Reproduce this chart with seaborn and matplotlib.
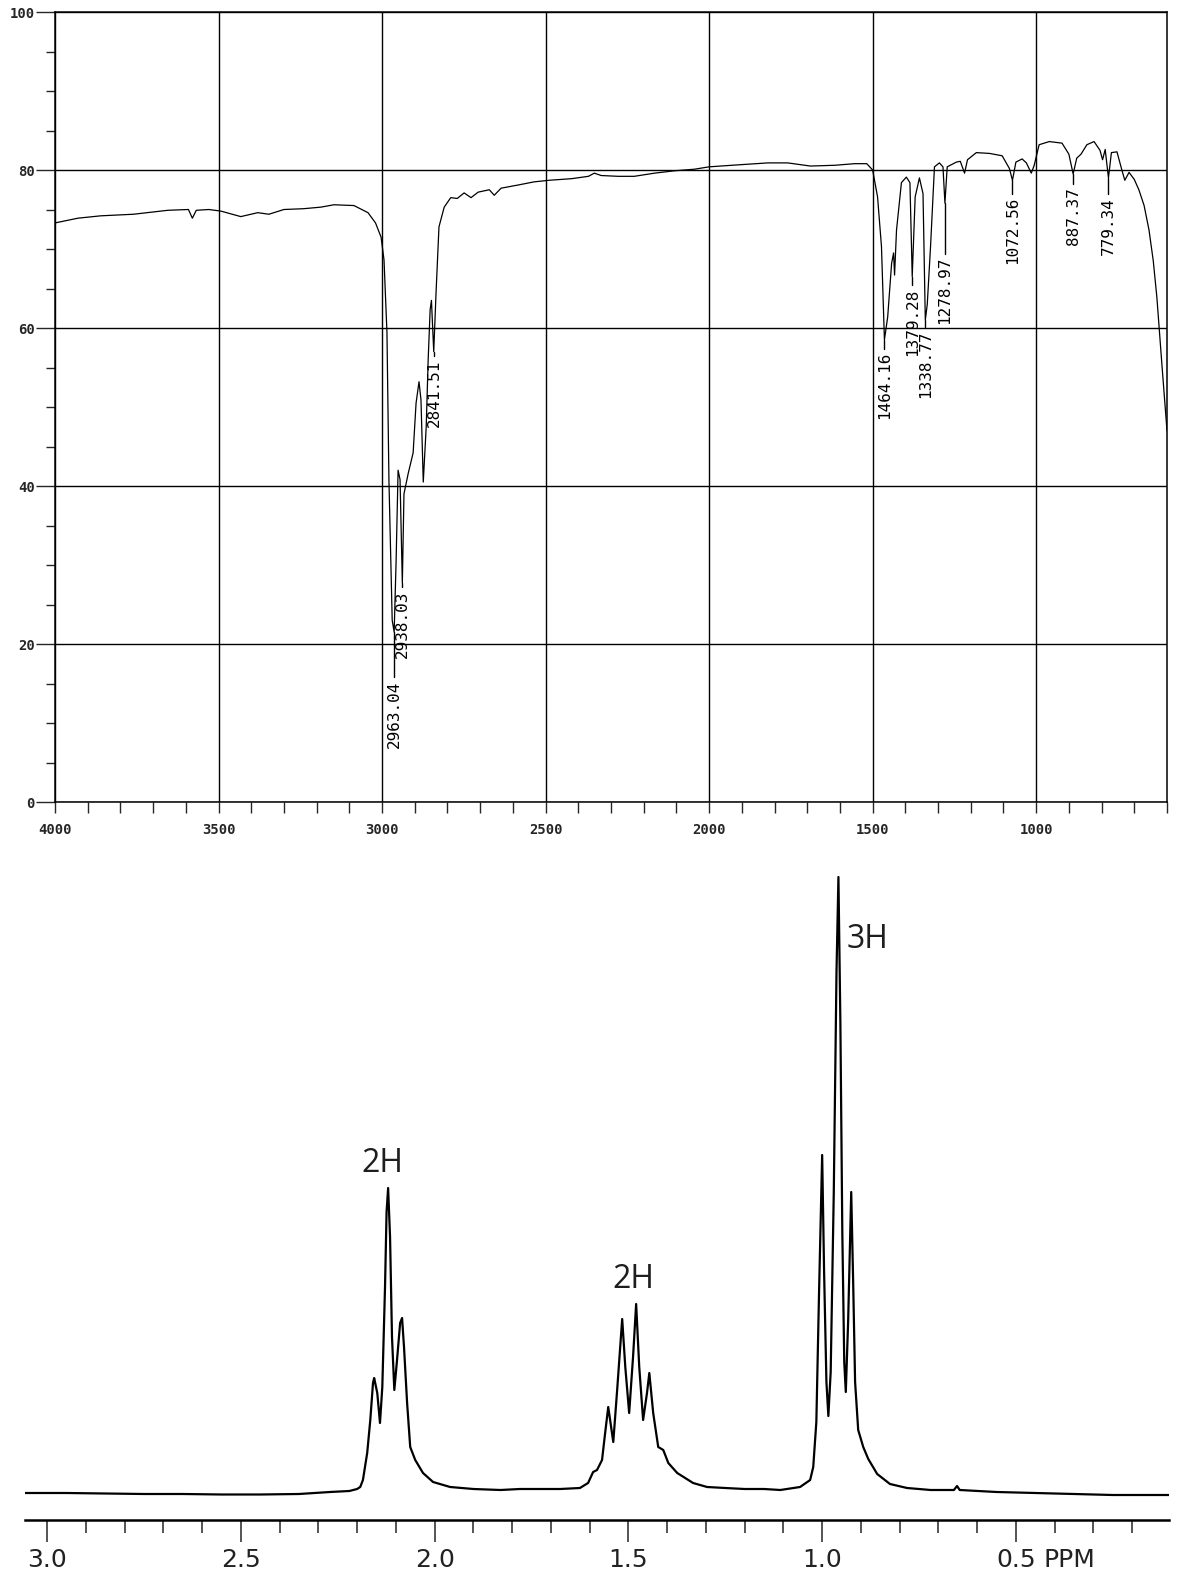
import matplotlib
matplotlib.use("Agg")
import matplotlib.pyplot as plt
import seaborn as sns
from matplotlib.ticker import MultipleLocator, FixedLocator, FuncFormatter

# IR trace (wavenumber in cm-1, %T)
ir_wavenumber = [4000, 3930, 3860, 3760, 3655, 3592, 3580, 3568, 3530, 3493,
                 3432, 3380, 3346, 3300, 3240, 3187, 3147, 3086, 3043, 3020,
                 3003, 2994, 2985, 2979, 2969, 2963, 2957, 2951, 2945, 2938,
                 2933, 2920, 2905, 2896, 2887, 2881, 2874, 2865, 2859, 2853,
                 2849, 2842, 2835, 2826, 2810, 2790, 2770, 2749, 2728, 2706,
                 2672, 2657, 2636, 2584, 2535, 2489, 2421, 2369, 2351, 2330,
                 2278, 2229, 2167, 2106, 2045, 2000, 1930, 1820, 1760, 1690,
                 1615, 1555, 1518, 1500, 1485, 1473, 1464, 1454, 1442, 1436,
                 1433, 1427, 1412, 1397, 1386, 1379, 1370, 1357, 1346, 1339,
                 1333, 1323, 1311, 1296, 1285, 1279, 1272, 1244, 1232, 1219,
                 1210, 1183, 1143, 1104, 1082, 1072.5, 1062, 1043, 1030, 1015,
                 1006, 991, 960, 921, 900, 887, 876, 863, 845, 823,
                 805, 797, 789, 779, 770, 753, 738, 729, 716, 700,
                 686, 670, 655, 642, 631, 616, 600]
ir_transmittance = [73.3, 73.9, 74.2, 74.4, 74.9, 75.0, 73.9, 74.9, 75.0, 74.8,
                    74.1, 74.6, 74.4, 75.0, 75.1, 75.3, 75.6, 75.5, 74.6, 73.3,
                    71.5, 68.6, 59.4, 40.8, 23.0, 21.5, 30.6, 42.0, 40.8, 27.7,
                    39.0, 41.6, 44.2, 50.5, 53.2, 50.9, 40.5, 47.5, 56.0, 62.3,
                    63.5, 57.0, 64.4, 72.8, 75.3, 76.5, 76.4, 77.1, 76.5, 77.2,
                    77.5, 76.8, 77.7, 78.1, 78.5, 78.7, 78.9, 79.2, 79.6, 79.3,
                    79.2, 79.2, 79.6, 79.9, 80.1, 80.4, 80.6, 80.9, 80.9, 80.5,
                    80.6, 80.8, 80.8, 80.0, 76.6, 70.3, 58.5, 61.4, 68.2, 69.5,
                    66.7, 72.4, 78.4, 79.1, 78.4, 66.5, 76.6, 79.0, 77.0, 61.0,
                    63.0, 70.3, 80.4, 80.9, 80.4, 75.8, 80.4, 81.0, 81.1, 79.6,
                    81.3, 82.2, 82.1, 81.8, 80.2, 78.7, 81.0, 81.4, 80.9, 79.6,
                    80.6, 83.2, 83.6, 83.4, 82.0, 79.5, 81.5, 82.0, 83.2, 83.6,
                    82.5, 81.3, 82.6, 79.0, 82.2, 82.3, 80.0, 78.7, 79.7, 78.8,
                    77.5, 75.5, 72.4, 68.5, 63.9, 55.6, 47.0]

# labelled IR bands
peak_labels = ["2963.04", "2938.03", "2841.51", "1464.16", "1379.28",
               "1338.77", "1278.97", "1072.56", "887.37", "779.34"]
peak_wavenumber = [2963.04, 2938.03, 2841.51, 1464.16, 1379.28,
                   1338.77, 1278.97, 1072.56, 887.37, 779.34]
peak_transmittance = [21.5, 27.7, 57.0, 58.5, 66.5, 61.0, 75.8, 78.7, 79.5, 79.0]

# 1H NMR trace (ppm, intensity in arbitrary units)
nmr_ppm = [3.057, 2.95, 2.85, 2.75, 2.65, 2.55, 2.45, 2.35, 2.27, 2.22,
           2.20, 2.192, 2.185, 2.174, 2.166, 2.159, 2.156, 2.148, 2.141, 2.135,
           2.128, 2.124, 2.120, 2.115, 2.110, 2.104, 2.097, 2.089, 2.084, 2.079,
           2.071, 2.063, 2.050, 2.030, 2.004, 1.960, 1.90, 1.83, 1.78, 1.72,
           1.676, 1.625, 1.604, 1.591, 1.581, 1.568, 1.560, 1.552, 1.539, 1.529,
           1.516, 1.508, 1.498, 1.488, 1.480, 1.472, 1.462, 1.452, 1.446, 1.436,
           1.423, 1.410, 1.397, 1.374, 1.333, 1.297, 1.25, 1.20, 1.15, 1.108,
           1.057, 1.031, 1.023, 1.015, 1.008, 1.000, 0.995, 0.989, 0.984, 0.978,
           0.970, 0.963, 0.958, 0.953, 0.948, 0.943, 0.939, 0.933, 0.925, 0.920,
           0.915, 0.907, 0.894, 0.881, 0.858, 0.825, 0.781, 0.72, 0.66, 0.652,
           0.645, 0.55, 0.45, 0.35, 0.25, 0.105]
nmr_intensity = [-1, -1, -1.5, -2, -2, -2.5, -2.5, -2, 0, 1,
                 3, 5, 12, 39, 72, 109, 114, 99, 69, 105,
                 205, 280, 304, 255, 155, 102, 132, 169, 174, 145,
                 89, 45, 32, 19, 10, 5, 3, 2, 3, 3,
                 3, 4, 9, 20, 22, 32, 59, 85, 50, 102,
                 173, 125, 79, 135, 188, 125, 72, 99, 119, 79,
                 45, 42, 29, 19, 9, 5, 4, 3, 3, 2,
                 5, 12, 25, 70, 200, 337, 220, 110, 76, 120,
                 300, 520, 615, 470, 260, 130, 100, 170, 300, 210,
                 110, 62, 45, 33, 18, 8, 4, 2, 2, 6,
                 2, 0, -1, -2, -3, -3]

nmr_groups = ["2H", "2H", "3H"]
nmr_group_ppm = [2.135, 1.488, 0.884]

# layout only: where each label sits
ir_label_top = [15.4, 26.8, 56.0, 57.0, 65.0, 59.7, 69.0, 76.6, 77.8, 76.6]
nmr_group_y = [329, 212, 553]

sns.set_style("white")
plt.rcParams['font.family'] = ['DejaVu Sans']

W, H = 1188, 1575
fig = plt.figure(figsize=(W / 100, H / 100), dpi=100)

# ---- IR panel ----
ax_ir = fig.add_axes([55 / W, 1 - 802 / H, 1112 / W, 790 / H])
sns.lineplot(x=ir_wavenumber, y=ir_transmittance, ax=ax_ir, color='black',
             lw=0.9, sort=False, estimator=None)
ax_ir.set_xlim(4000, 600)
ax_ir.set_ylim(0, 100)
ax_ir.xaxis.set_major_locator(MultipleLocator(500))
ax_ir.xaxis.set_minor_locator(MultipleLocator(100))
ax_ir.yaxis.set_major_locator(MultipleLocator(20))
ax_ir.yaxis.set_minor_locator(MultipleLocator(5))
ax_ir.xaxis.set_major_formatter(FuncFormatter(lambda v, p: f"{v:.0f}"))
ax_ir.yaxis.set_major_formatter(FuncFormatter(lambda v, p: f"{v:.0f}"))
ax_ir.grid(True, which='major', color='black', lw=1.0)
for s in ax_ir.spines.values():
    s.set_color('black')
    s.set_linewidth(1.1)
ax_ir.tick_params(axis='y', which='major', direction='out', length=13.5, width=1, pad=1, left=True)
ax_ir.tick_params(axis='y', which='minor', direction='out', length=6.5, width=1, left=True)
ax_ir.tick_params(axis='x', which='major', direction='out', length=8, width=1, pad=7, bottom=True)
ax_ir.tick_params(axis='x', which='minor', direction='out', length=8, width=1, bottom=True)
for lab in ax_ir.get_xticklabels() + ax_ir.get_yticklabels():
    lab.set_fontfamily('DejaVu Sans Mono')
    lab.set_fontweight('bold')
    lab.set_fontsize(10)
ax_ir.set_xlabel('')
ax_ir.set_ylabel('')

for txt, wn, t, top in zip(peak_labels, peak_wavenumber, peak_transmittance, ir_label_top):
    ax_ir.plot([wn, wn], [t, top + 0.4], color='black', lw=1.0)
    ax_ir.text(wn, top, txt, rotation=90, ha='center', va='top',
               fontfamily='DejaVu Sans Mono', fontsize=11.5, color='black')

# ---- NMR panel ----
ax_nmr = fig.add_axes([25 / W, 1 - 1520 / H, 1144 / W, 670 / H])
sns.lineplot(x=nmr_ppm, y=nmr_intensity, ax=ax_nmr, color='black',
             lw=1.6, sort=False, estimator=None)
ax_nmr.set_xlim(3.057, 0.105)
ax_nmr.set_ylim(-28, 642)
for side in ['top', 'left', 'right']:
    ax_nmr.spines[side].set_visible(False)
ax_nmr.spines['bottom'].set_color('black')
ax_nmr.spines['bottom'].set_linewidth(1.8)
ax_nmr.set_yticks([])
major_ppm = [3.0, 2.5, 2.0, 1.5, 1.0, 0.5]
ax_nmr.xaxis.set_major_locator(FixedLocator(major_ppm))
ax_nmr.xaxis.set_minor_locator(FixedLocator([round(0.2 + 0.1 * i, 1) for i in range(29)]))
ax_nmr.set_xticklabels([f"{v:.1f}" for v in major_ppm])
ax_nmr.tick_params(axis='x', which='major', direction='out', length=16, width=1.1,
                   pad=4, labelsize=18, labelcolor='#222222', bottom=True)
ax_nmr.tick_params(axis='x', which='minor', direction='out', length=9, width=1.1, bottom=True)
ax_nmr.annotate("PPM", xy=(0.43, 0), xycoords=('data', 'axes fraction'),
                xytext=(0, -20), textcoords='offset points', ha='left', va='top',
                fontsize=18, color='#222222')
ax_nmr.set_xlabel('')
ax_nmr.set_ylabel('')

for g, p, y in zip(nmr_groups, nmr_group_ppm, nmr_group_y):
    ax_nmr.text(p, y, g, ha='center', va='center', fontsize=23,
                fontfamily=['Open Sans', 'DejaVu Sans'], color='#1e1e1e')

fig.savefig("out.png", dpi=100)
